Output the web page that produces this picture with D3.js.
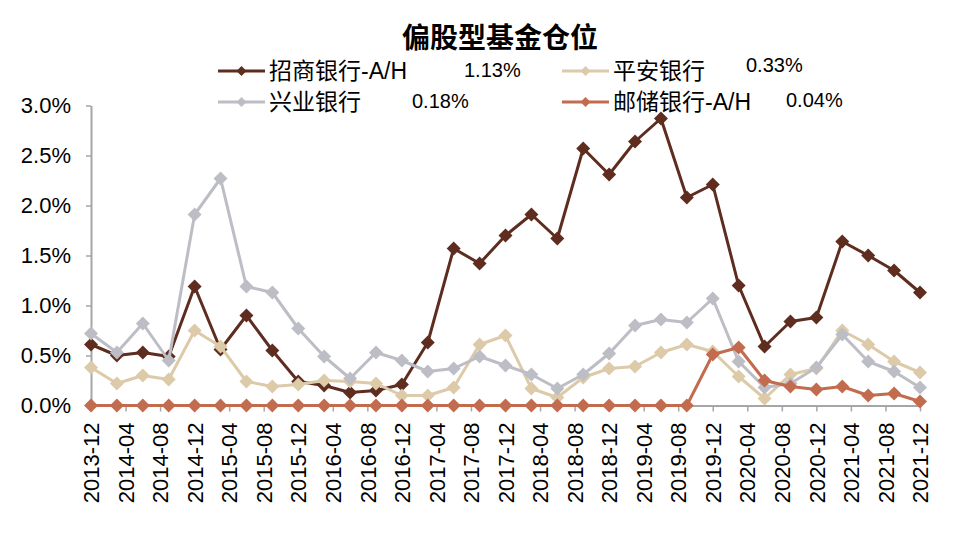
<!DOCTYPE html>
<html>
<head>
<meta charset="utf-8">
<title>偏股型基金仓位</title>
<script src="https://d3js.org/d3.v7.min.js"></script>
<style>
  body { margin: 0; background: #fff; }
  svg text { font-family: "Liberation Sans", Arial, "Noto Sans CJK SC", sans-serif; fill: #000; }
</style>
</head>
<body>
<svg id="chart" width="962" height="536"></svg>
<script>
// quarterly data points
var quarters = ["2013-12","2014-03","2014-06","2014-09","2014-12","2015-03","2015-06","2015-09",
                "2015-12","2016-03","2016-06","2016-09","2016-12","2017-03","2017-06","2017-09",
                "2017-12","2018-03","2018-06","2018-09","2018-12","2019-03","2019-06","2019-09",
                "2019-12","2020-03","2020-06","2020-09","2020-12","2021-03","2021-06","2021-09","2021-12"];

// axis labels, every 4 months
var tickLabels = ["2013-12","2014-04","2014-08","2014-12","2015-04","2015-08","2015-12","2016-04",
                  "2016-08","2016-12","2017-04","2017-08","2017-12","2018-04","2018-08","2018-12",
                  "2019-04","2019-08","2019-12","2020-04","2020-08","2020-12","2021-04","2021-08","2021-12"];

var yTicks = [0, 0.5, 1.0, 1.5, 2.0, 2.5, 3.0];

// values in %
var cmb  = [0.61,0.50,0.53,0.49,1.19,0.56,0.90,0.55,0.24,0.20,0.13,0.15,0.21,0.63,1.57,1.42,
            1.70,1.91,1.67,2.57,2.31,2.64,2.87,2.08,2.21,1.20,0.59,0.84,0.88,1.64,1.50,1.35,1.13];
var pab  = [0.38,0.22,0.30,0.26,0.75,0.59,0.24,0.19,0.21,0.25,0.24,0.22,0.10,0.10,0.18,0.61,
            0.70,0.17,0.08,0.28,0.37,0.39,0.53,0.61,0.54,0.29,0.07,0.31,0.37,0.75,0.61,0.44,0.33];
var cib  = [0.72,0.53,0.82,0.45,1.91,2.27,1.19,1.13,0.77,0.49,0.27,0.53,0.45,0.34,0.37,0.49,
            0.40,0.31,0.17,0.31,0.52,0.80,0.86,0.83,1.07,0.44,0.18,0.22,0.38,0.71,0.44,0.34,0.18];
var psbc = [0,0,0,0,0,0,0,0,0,0,0,0,0,0,0,0,
            0,0,0,0,0,0,0,0,0.51,0.58,0.25,0.19,0.16,0.19,0.10,0.12,0.04];

var seriesNames = ["招商银行-A/H", "平安银行", "兴业银行", "邮储银行-A/H"];
var seriesValues = [cmb, pab, cib, psbc];
var colors = ["#5e2d1f", "#dccaa9", "#bdbdc6", "#c36b4e"];

var svg = d3.select("#chart");

function monthIndex(s) {
    var p = s.split("-");
    return (+p[0] - 2013) * 12 + (+p[1] - 12);
}

var x = d3.scaleLinear().domain([0, 96]).range([91, 920]);
var y = d3.scaleLinear().domain([0, 3]).range([405.5, 105.5]);

// title
svg.append("text")
    .attr("x", 500).attr("y", 38)
    .attr("dy", "0.35em")
    .attr("text-anchor", "middle")
    .style("font-size", "28px")
    .style("font-weight", "bold")
    .text("偏股型基金仓位");

// y axis
var yAxis = svg.append("g")
    .attr("transform", "translate(91,0)")
    .call(d3.axisLeft(y).tickValues(yTicks).tickSize(5).tickSizeOuter(0).tickPadding(15)
        .tickFormat(function(d) { return d3.format(".1f")(d) + "%"; }));

// x axis
var xAxis = svg.append("g")
    .attr("transform", "translate(0,405.5)")
    .call(d3.axisBottom(x).tickValues(tickLabels.map(monthIndex)).tickSize(6).tickSizeOuter(0)
        .tickFormat(function(d, i) { return tickLabels[i]; }));

xAxis.selectAll("text")
    .attr("transform", "rotate(-90)")
    .attr("x", -17).attr("y", 0)
    .attr("dy", "0.35em")
    .style("text-anchor", "end")
    .style("font-size", "22px");

yAxis.selectAll("text").style("font-size", "22px");

[xAxis, yAxis].forEach(function(a) {
    a.select(".domain").attr("stroke", "#a6a6a6").attr("stroke-width", 2);
    a.selectAll(".tick line").attr("stroke", "#a6a6a6").attr("stroke-width", 1.5);
});

// lines + markers
var line = d3.line()
    .x(function(d, i) { return x(monthIndex(quarters[i])); })
    .y(function(d) { return y(d); });

var diamond = d3.symbol().type(d3.symbolSquare).size(98);

seriesValues.forEach(function(vals, k) {
    var g = svg.append("g");
    g.append("path")
        .datum(vals)
        .attr("d", line)
        .attr("fill", "none")
        .attr("stroke", colors[k])
        .attr("stroke-width", 3)
        .attr("stroke-linejoin", "round");
    g.selectAll(".pt")
        .data(vals)
        .enter().append("path")
        .attr("class", "pt")
        .attr("d", diamond)
        .attr("fill", colors[k])
        .attr("transform", function(d, i) {
            return "translate(" + x(monthIndex(quarters[i])) + "," + y(d) + ") rotate(45)";
        });
});

// legend
var legendPos = [
    {lx: 218, ly: 71, vx: 464, vy: 70},
    {lx: 562, ly: 71, vx: 746, vy: 65},
    {lx: 218, ly: 102, vx: 412, vy: 101},
    {lx: 562, ly: 102, vx: 786, vy: 99.5}
];
var smallDiamond = d3.symbol().type(d3.symbolSquare).size(50);

seriesNames.forEach(function(name, k) {
    var p = legendPos[k];
    var lg = svg.append("g");
    lg.append("line")
        .attr("x1", p.lx).attr("x2", p.lx + 47)
        .attr("y1", p.ly).attr("y2", p.ly)
        .attr("stroke", colors[k]).attr("stroke-width", 3);
    lg.append("path")
        .attr("d", smallDiamond)
        .attr("fill", colors[k])
        .attr("transform", "translate(" + (p.lx + 23.5) + "," + p.ly + ") rotate(45)");
    lg.append("text")
        .attr("x", p.lx + 51).attr("y", p.ly)
        .attr("dy", "0.35em")
        .style("font-size", "23px")
        .text(name);
    var last = seriesValues[k][seriesValues[k].length - 1];
    lg.append("text")
        .attr("x", p.vx).attr("y", p.vy)
        .attr("dy", "0.35em")
        .style("font-size", "20px")
        .text(d3.format(".2f")(last) + "%");
});
</script>
</body>
</html>
